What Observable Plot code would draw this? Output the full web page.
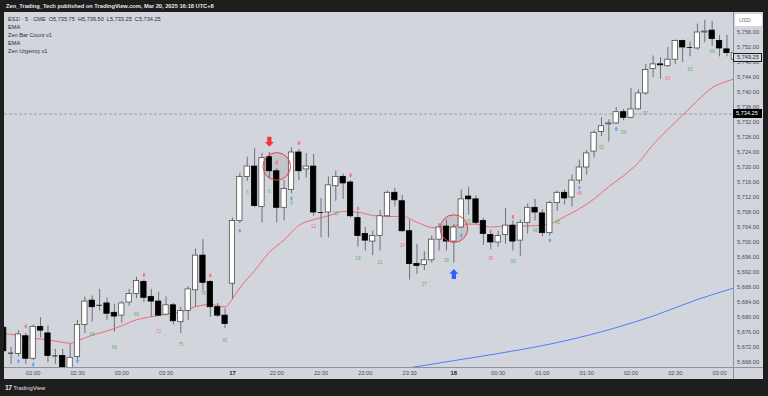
<!DOCTYPE html>
<html><head><meta charset="utf-8">
<script src="https://cdn.jsdelivr.net/npm/d3@7"></script>
<script src="https://cdn.jsdelivr.net/npm/@observablehq/plot@0.6"></script>
<style>
html,body{margin:0;padding:0;background:#1e1e1e;}
body{width:768px;height:396px;position:relative;overflow:hidden;font-family:"Liberation Sans",Arial,sans-serif;}
.abs{position:absolute;}
#panel{left:4px;top:12px;width:759px;height:367px;background:#d3d5dd;}
#vline{left:733px;top:12px;width:1px;height:367px;background:#8e9199;}
#hline{left:4px;top:367px;width:759px;height:1px;background:#8e9199;}
#title{left:6px;top:0;height:12px;line-height:12px;font-size:5.7px;color:#e8e8e8;font-weight:bold;white-space:nowrap;}
#legend{left:8px;top:15.3px;font-size:5.6px;color:#2a2d35;line-height:8px;white-space:pre;}
#usd{left:735px;top:14px;width:27px;height:12px;background:#fff;border-radius:1.5px;font-size:5.5px;color:#6a6d75;line-height:12px;text-indent:4px;}
#footer{left:5px;top:379px;height:17px;line-height:17px;font-size:5.8px;color:#e0e0e0;white-space:nowrap;}
#chart{left:0;top:0;}
.tag{position:absolute;left:733px;width:29px;height:9px;line-height:9px;font-size:5.6px;text-indent:3px;box-sizing:border-box;}
</style></head>
<body>
<div id="panel" class="abs"></div>
<div id="vline" class="abs"></div>
<div id="hline" class="abs"></div>
<div id="chart" class="abs"></div>
<div id="title" class="abs">Zen_Trading_Tech published on TradingView.com, Mar 20, 2025 16:18 UTC+8</div>
<div id="legend" class="abs"></div>
<div id="usd" class="abs">USD</div>
<div id="footer" class="abs"><span style="font-weight:900;font-size:7px;letter-spacing:-0.6px">17</span>&nbsp;TradingView</div>
<script>
// ---- data (bar index -4 .. 95, 5-minute bars) ----
const firstBar = -4;
const open = [5677.25,5670.5,5670.25,5675,5669,5677.5,5675.75,5669.75,5669.75,5666.25,
5669.5,5678,5684.5,5683.25,5683.75,5681.25,5680.5,5684,5686.25,5689.5,
5685.5,5684.25,5680.75,5683.25,5678.75,5681.75,5687.25,5696.5,5689.5,5682.75,
5680.5,5689,5705.75,5717.5,5720.25,5709.5,5722.75,5719,5709.25,5714,
5724,5719.5,5720.25,5708,5708,5715,5717.5,5716,5706.5,5702.25,
5700.25,5701.75,5707,5713.25,5711,5703,5694.25,5694,5695.25,5700.75,
5704.25,5700.25,5704,5712.25,5711.5,5705.75,5702,5700,5702,5704.5,
5700.5,5705.25,5709.25,5707.75,5702.5,5710.5,5713.25,5712,5716.5,5720,
5724.25,5729.5,5731.5,5731.75,5734.75,5733.25,5735.5,5739.75,5746.25,5747.5,
5747,5748.75,5753.75,5752,5751.75,5756,5756.5,5753.75,5751.5,5748.75];
const high = [5677.75,5672,5676.5,5675.75,5678,5680,5677.75,5671.5,5671.5,5672.75,
5679.25,5685.5,5685.75,5687.5,5685.25,5683.5,5684.25,5687.5,5690.75,5690,
5687.5,5686.75,5685.5,5683.75,5682.75,5688.25,5698.25,5700.75,5689.75,5683.75,
5682.25,5706.5,5718.5,5722.75,5725,5723.75,5724,5719.75,5716.5,5725.25,
5724.75,5723.75,5723.5,5711.75,5717.5,5719,5718.25,5716.5,5708,5704,
5703,5708.5,5713.75,5714.5,5712.5,5706,5699.5,5697.5,5701.75,5705,
5706,5704.75,5714,5714.75,5712.5,5706.5,5703.25,5703,5709,5705.75,
5706,5710.25,5711.5,5708.75,5711,5713.75,5714,5718,5722,5724.5,
5729.75,5733.25,5732.75,5736,5735.5,5741,5740.75,5747.5,5749.75,5749.25,
5752,5754,5754,5753.5,5758.25,5759.25,5759,5755.25,5755.25,5751.25];
const low = [5670.5,5667.5,5669.5,5667.5,5668.5,5674.5,5668,5667.5,5665.25,5665.25,
5668.5,5675.75,5678.75,5681.75,5679.25,5676,5678.5,5683,5685,5684,
5680,5680.25,5680.5,5678,5675.75,5679.25,5682.75,5687,5680,5680,
5677,5684.75,5705,5716.25,5709.25,5705.25,5717,5705.25,5705.75,5713,
5716.5,5717.25,5707,5701.25,5701.25,5711,5711.5,5706.5,5698.75,5697.75,
5696.5,5697.75,5706.75,5709.5,5702.75,5690,5691.5,5692.5,5694.5,5697.75,
5697.75,5694.5,5703.75,5707.25,5704.75,5699.25,5698,5698.75,5699.5,5697.75,
5696.25,5702.25,5705.75,5701.5,5701.75,5708.25,5710,5709.5,5715.5,5718,
5722.5,5728.25,5726.75,5731.5,5732.5,5733,5735.25,5739.25,5744,5743.5,
5746.75,5747.5,5748,5749.5,5751.25,5753.25,5752.25,5749.5,5749.5,5748.25];
const close = [5671,5670.5,5675.5,5669,5677.5,5676.5,5669.75,5669.75,5666.25,5669.25,
5678,5684.25,5682.75,5683.25,5681,5680.25,5683.75,5686.25,5689.75,5685.25,
5684.25,5680.5,5683.25,5679,5681.75,5687.5,5696.5,5689.25,5682.75,5680.5,
5678.25,5705.75,5717.5,5720.25,5709.75,5722.5,5719,5709.25,5714.25,5724,
5719,5720.25,5708,5708,5715.25,5717.5,5715.75,5707,5701.75,5700.5,
5701.75,5707,5713.25,5711.25,5703,5694.25,5693.75,5695.25,5700.75,5704,
5700.25,5704,5711.5,5711.5,5705.25,5702.25,5700,5701.75,5704.5,5700.25,
5705.25,5709.25,5708,5702.5,5710.5,5713.25,5711.75,5716.5,5720,5723.75,
5729.25,5731,5731.75,5734.75,5733.25,5735.5,5739.75,5746,5747.5,5747.25,
5748.75,5753.75,5752,5752,5756,5756.25,5754.25,5751.75,5750.5,5750.5];

// EMA 20 (red) and EMA 200 (blue), read at bar positions
const emaFastBar = [-4,-2,0,2,4,5,6,8,10,12,14,16,18,20,22,24,26,27,28,30,32,34,36,38,40,42,44,46,48,50,52,54,56,58,60,62,64,66,68,70,72,74,76,78,80,82,84,86,88,90,92,94,95];
const emaFastVal = [5675.7,5675.2,5674.5,5674,5673.4,5673.1,5673.8,5675.3,5676.4,5677.8,5679.4,5680.2,5680.9,5681.5,5682.9,5683.5,5682.8,5685,5687.9,5692.5,5697.4,5700.7,5704.6,5706.1,5707.1,5708.3,5708.1,5707.2,5706.9,5707,5705.4,5704,5703.8,5704.9,5704.9,5704.1,5704.4,5704.4,5704.5,5705,5706.9,5709,5711.6,5714.9,5717.8,5721.3,5726.1,5730.2,5733.9,5737.8,5741.3,5743,5743.6];
const emaSlowBar = [45,51,57,63,70,77,84,90,95];
const emaSlowVal = [5664.8,5666.6,5668.5,5670.4,5672.9,5676.2,5680.4,5684.8,5687.9];

// Zen Bar Count labels
const countBar = [8,11,14,17,20,23,26,29,32,35,38,41,44,47,50,53,56,59,62,65,68,71,74,77,80,83,86,89,92];
const countText = ["63","66","69","72","75","78","81","3","6","9","12","15","18","21","24","27","30","33","36","39","42","45","48","51","54","57","60","63","66"];
const countAt = [5675.5,5672,5680.8,5676.35,5672.8,5686.3,5673.9,5713.4,5713.6,5710.5,5704.3,5707.8,5695.65,5694.75,5699.2,5688.8,5695.2,5705.6,5695.7,5695,5703.1,5705.4,5713.1,5725.4,5729.4,5734.5,5743.65,5746.2,5750.9];

// Zen Urgency markers
const downBar = [-1,15,24,33,36,43,44,65];
const downAt = [5677.6,5691.3,5691.2,5721.3,5726.5,5717.9,5709,5706.75];
const upBar = [-2,0,6,28,35,58,70,74,79];
const upAt = [5668.35,5667.5,5668.35,5703.2,5711.8,5701.9,5700.6,5714.6,5730.3];
const bigDownBar = [32], bigDownAt = [5726.9];
const bigUpBar = [57], bigUpAt = [5691.6];
const circleBar = [33,57], circleAt = [5720.3,5703.7];

// axis ticks
const timeTickBar = [0,6,12,18,27,33,39,45,51,57,63,69,75,81,87,93];
const timeTickLabel = ["02:00","02:30","03:00","03:30","17","22:00","22:30","23:00","23:30","18","00:30","01:00","01:30","02:00","02:30","03:00"];
const priceTicks = d3.range(5668, 5757, 4);

// current bar / legend
const symbolName = "ES1! · 5 · CME";
const curOHLC = [5735.75, 5736.50, 5733.25, 5734.25];
const markedPrice = 5749.25;

// ---- build ----
const candles = open.map((o, i) => ({n: firstBar + i, o, h: high[i], l: low[i], c: close[i]}));
const up = candles.filter(d => d.c > d.o);
const dn = candles.filter(d => d.c < d.o);
const doji = candles.filter(d => d.c === d.o);
const fast = emaFastBar.map((n, i) => ({n, v: emaFastVal[i]}));
const slow = emaSlowBar.map((n, i) => ({n, v: emaSlowVal[i]}));
const counts = countBar.map((n, i) => ({n, t: countText[i], v: countAt[i]}));
const downs = downBar.map((n, i) => ({n, v: downAt[i]}));
const ups = upBar.map((n, i) => ({n, v: upAt[i]}));
const bigDowns = bigDownBar.map((n, i) => ({n, v: bigDownAt[i]}));
const bigUps = bigUpBar.map((n, i) => ({n, v: bigUpAt[i]}));
const circles = circleBar.map((n, i) => ({n, v: circleAt[i]}));
const labelOf = new Map(timeTickBar.map((b, i) => [b, timeTickLabel[i]]));
const isDay = b => !labelOf.get(b).includes(":");

const arrowUp = {draw(ctx, size) {
  const r = Math.sqrt(size / Math.PI);
  ctx.moveTo(0, -r); ctx.lineTo(0.9 * r, -0.05 * r); ctx.lineTo(0.42 * r, -0.05 * r);
  ctx.lineTo(0.42 * r, r); ctx.lineTo(-0.42 * r, r); ctx.lineTo(-0.42 * r, -0.05 * r);
  ctx.lineTo(-0.9 * r, -0.05 * r); ctx.closePath();
}};
const arrowDown = {draw(ctx, size) {
  const r = Math.sqrt(size / Math.PI);
  ctx.moveTo(0, r); ctx.lineTo(0.9 * r, 0.05 * r); ctx.lineTo(0.42 * r, 0.05 * r);
  ctx.lineTo(0.42 * r, -r); ctx.lineTo(-0.42 * r, -r); ctx.lineTo(-0.42 * r, 0.05 * r);
  ctx.lineTo(-0.9 * r, 0.05 * r); ctx.closePath();
}};

const hw = 0.36;
const chart = Plot.plot({
  width: 768, height: 396,
  marginLeft: 4, marginRight: 35, marginTop: 12.5, marginBottom: 29,
  x: {domain: [-3.89, 94.89], axis: null},
  y: {domain: [5666.667, 5761.2], axis: null},
  style: {background: "transparent", fontFamily: "Liberation Sans, Arial, sans-serif", overflow: "visible"},
  marks: [
    Plot.ruleY([curOHLC[3]], {stroke: "#9c9ea6", strokeDasharray: "3,2", strokeWidth: 1}),
    Plot.dot(circles, {x: "n", y: "v", r: 13.8, fill: "#b5b6ba", fillOpacity: 0.55, stroke: "none"}),
    Plot.line(slow, {x: "n", y: "v", stroke: "#4f7df3", strokeWidth: 1, curve: "monotone-x", clip: true}),
    Plot.line(fast, {x: "n", y: "v", stroke: "#ee6a74", strokeWidth: 1, curve: "monotone-x", clip: true}),
    Plot.ruleX(candles, {x: "n", y1: "l", y2: "h", stroke: "#6e7079", strokeWidth: 1, clip: true}),
    Plot.rect(up, {x1: d => d.n - hw, x2: d => d.n + hw, y1: "o", y2: "c", fill: "#ffffff", stroke: "#4d4d4d", strokeWidth: 0.8, clip: true}),
    Plot.rect(dn, {x1: d => d.n - hw, x2: d => d.n + hw, y1: "o", y2: "c", fill: "#000000", stroke: "#000000", strokeWidth: 0.8, clip: true}),
    Plot.ruleY(doji, {y: "o", x1: d => d.n - hw, x2: d => d.n + hw, stroke: "#222222", strokeWidth: 1, clip: true}),
    Plot.dot(circles, {x: "n", y: "v", r: 13.8, fill: "none", stroke: "#ee3b4a", strokeWidth: 1}),
    Plot.text(counts, {x: "n", y: "v", text: "t", fontSize: 4.6, fill: d => (+d.t % 12 === 0 ? "#f0707a" : "#55b55c")}),
    Plot.dot(ups, {x: "n", y: "v", r: 2.1, symbol: arrowUp, fill: "#62a4f2", stroke: "none"}),
    Plot.dot(downs, {x: "n", y: "v", r: 2.1, symbol: arrowDown, fill: "#f4777d", stroke: "none"}),
    Plot.dot(bigDowns, {x: "n", y: "v", r: 5, symbol: arrowDown, fill: "#f23645", stroke: "none"}),
    Plot.dot(bigUps, {x: "n", y: "v", r: 5, symbol: arrowUp, fill: "#2962ff", stroke: "none"}),
    Plot.axisY(priceTicks, {anchor: "right", tickSize: 0, tickPadding: 3.5, tickFormat: d3.format(",.2f"), fontSize: 5.7, fill: "#4a4d55", label: null}),
    Plot.axisX(timeTickBar.filter(b => !isDay(b)), {anchor: "bottom", tickSize: 0, tickPadding: 3.5, tickFormat: b => labelOf.get(b), fontSize: 5.7, fill: "#4a4d55", label: null}),
    Plot.axisX(timeTickBar.filter(isDay), {anchor: "bottom", tickSize: 0, tickPadding: 3.5, tickFormat: b => labelOf.get(b), fontSize: 5.9, fontWeight: "bold", fill: "#1e1f24", label: null})
  ]
});
document.getElementById("chart").appendChild(chart);

const fmt = d3.format(",.2f");
document.getElementById("legend").textContent =
  `${symbolName}  O${fmt(curOHLC[0])}  H${fmt(curOHLC[1])}  L${fmt(curOHLC[2])}  C${fmt(curOHLC[3])}\nEMA\nZen Bar Count v1\nEMA\nZen Urgency v1`;

const ys = chart.scale("y");
function tag(price, bg, fg, border) {
  const el = document.createElement("div");
  el.className = "tag";
  el.style.top = (ys.apply(price) - 4.5) + "px";
  el.style.background = bg; el.style.color = fg;
  if (border) el.style.border = "1px solid " + border;
  el.style.lineHeight = border ? "7px" : "9px";
  el.textContent = fmt(price);
  document.body.appendChild(el);
}
tag(markedPrice, "#d6d8df", "#2a2d35", "#1a1a1a");
tag(curOHLC[3], "#000000", "#ffffff", null);
</script>
</body></html>
